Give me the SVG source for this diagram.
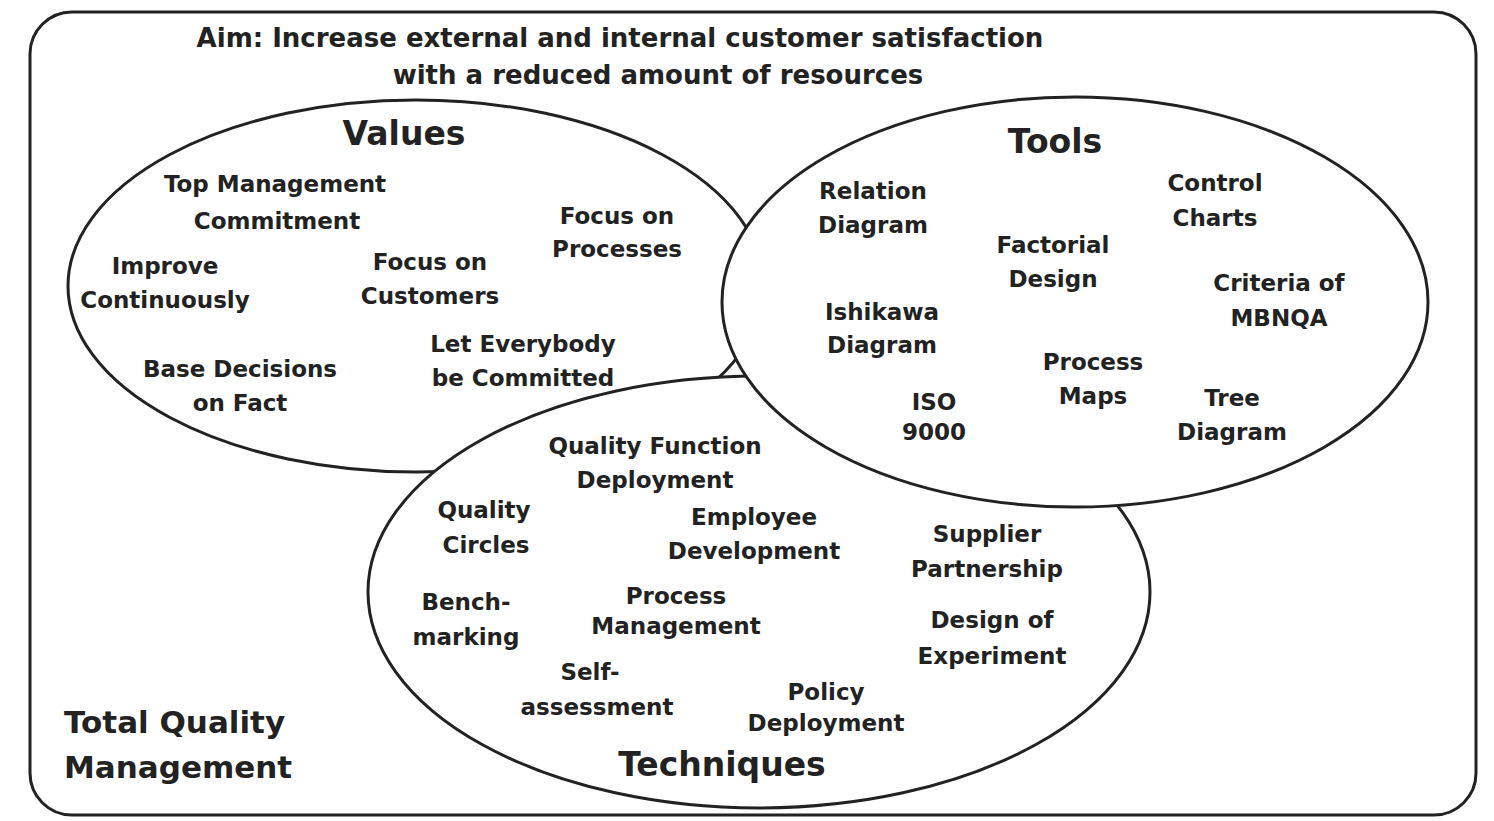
<svg xmlns="http://www.w3.org/2000/svg" width="1494" height="821" viewBox="0 0 1494 821">
<style>
.s{fill:#fff;stroke:#222;stroke-width:3}
text{font-family:"DejaVu Sans","Liberation Sans",Arial,sans-serif;font-weight:bold;fill:#222;text-anchor:middle}
.t{font-size:23px}
.h{font-size:33px}
</style>
<rect width="1494" height="821" fill="#fff"/>
<rect x="30" y="12" width="1446" height="803" rx="42" fill="none" stroke="#222" stroke-width="3"/>
<g id="title"><text x="620" y="47" font-size="26">Aim: Increase external and internal customer satisfaction</text><text x="658" y="84" font-size="26">with a reduced amount of resources</text></g>
<g id="values"><ellipse class="s" cx="416" cy="286" rx="348" ry="186"/>
<text class="h" x="404" y="145">Values</text>
<text class="t" x="275" y="192">Top Management</text><text class="t" x="277" y="229">Commitment</text>
<text class="t" x="617" y="224">Focus on</text><text class="t" x="617" y="257">Processes</text>
<text class="t" x="165" y="274">Improve</text><text class="t" x="165" y="308">Continuously</text>
<text class="t" x="430" y="270">Focus on</text><text class="t" x="430" y="304">Customers</text>
<text class="t" x="523" y="352">Let Everybody</text><text class="t" x="523" y="386">be Committed</text>
<text class="t" x="240" y="377">Base Decisions</text><text class="t" x="240" y="411">on Fact</text>
</g>
<g id="techniques"><ellipse class="s" cx="759" cy="592" rx="391" ry="216"/>
<text class="t" x="655" y="454">Quality Function</text><text class="t" x="655" y="488">Deployment</text>
<text class="t" x="484" y="518">Quality</text><text class="t" x="486" y="553">Circles</text>
<text class="t" x="754" y="525">Employee</text><text class="t" x="754" y="559">Development</text>
<text class="t" x="987" y="542">Supplier</text><text class="t" x="987" y="577">Partnership</text>
<text class="t" x="466" y="610">Bench-</text><text class="t" x="466" y="645">marking</text>
<text class="t" x="676" y="604">Process</text><text class="t" x="676" y="634">Management</text>
<text class="t" x="992" y="628">Design of</text><text class="t" x="992" y="664">Experiment</text>
<text class="t" x="590" y="680">Self-</text><text class="t" x="597" y="715">assessment</text>
<text class="t" x="826" y="700">Policy</text><text class="t" x="826" y="731">Deployment</text>
<text class="h" x="722" y="776">Techniques</text>
</g>
<g id="tools"><ellipse class="s" cx="1075" cy="302" rx="353" ry="205"/>
<text class="h" x="1055" y="153">Tools</text>
<text class="t" x="873" y="199">Relation</text><text class="t" x="873" y="233">Diagram</text>
<text class="t" x="1215" y="191">Control</text><text class="t" x="1215" y="226">Charts</text>
<text class="t" x="1053" y="253">Factorial</text><text class="t" x="1053" y="287">Design</text>
<text class="t" x="1279" y="291">Criteria of</text><text class="t" x="1279" y="326">MBNQA</text>
<text class="t" x="882" y="320">Ishikawa</text><text class="t" x="882" y="353">Diagram</text>
<text class="t" x="1093" y="370">Process</text><text class="t" x="1093" y="404">Maps</text>
<text class="t" x="934" y="410">ISO</text><text class="t" x="934" y="440">9000</text>
<text class="t" x="1232" y="406">Tree</text><text class="t" x="1232" y="440">Diagram</text>
</g>
<g id="tqm"><text x="64" y="733" font-size="31" style="text-anchor:start">Total Quality</text><text x="64" y="778" font-size="31" style="text-anchor:start">Management</text></g>
<g id="connectors"/>
</svg>
